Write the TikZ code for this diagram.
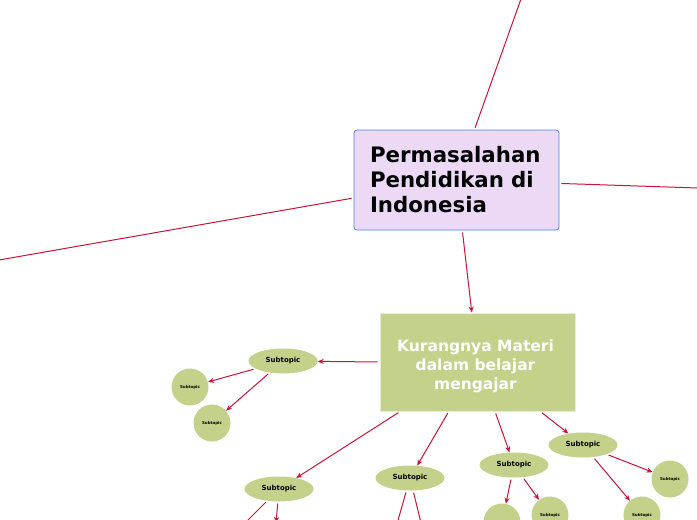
\documentclass[tikz,border=0pt]{standalone}
\usepackage{fontspec}
\newfontfamily\dv{DejaVu Sans}
\usetikzlibrary{shapes.geometric,arrows.meta}
\definecolor{conn}{HTML}{C8153A}
\definecolor{lav}{HTML}{EBD9F6}
\definecolor{lavb}{HTML}{4A86E8}
\definecolor{grn}{HTML}{C3D18B}
\definecolor{grnb}{HTML}{E9EED2}
\tikzset{
  line/.style={draw=conn, line width=1pt, shorten <=2pt},
  arr/.style={line, -{Stealth[length=6pt,width=5pt]}},
  topic/.style={ellipse, fill=grn, minimum width=69pt, minimum height=25pt, inner sep=0pt, font=\dv\bfseries\fontsize{7}{8}\selectfont},
  leaf/.style={circle, fill=grn, minimum size=37pt, inner sep=0pt, font=\dv\bfseries\fontsize{4}{5}\selectfont},
}
\begin{document}
\begin{tikzpicture}[x=1pt,y=-1pt]
\useasboundingbox (0,0) rectangle (697,520);
\clip (0,0) rectangle (697,520);
\fill[white] (0,0) rectangle (697,520);
% main node
\node[draw=lavb, fill=lav, rounded corners=3pt, line width=0.8pt, minimum width=205pt, minimum height=100pt,
      text width=173pt, align=left, inner sep=0pt, font=\dv\bfseries\fontsize{21.3}{25}\selectfont] (main) at (456.5,180) {Permasalahan\\Pendidikan di\\Indonesia};
\coordinate (ctop) at (521,-1);
\coordinate (cright) at (698,188);
\coordinate (cleft) at (-1,260);
\draw[line] (main) -- (ctop);
\draw[line] (main) -- (cright);
\draw[line] (main) -- (cleft);
% green box
\node[draw=grnb, fill=grn, line width=1pt, minimum width=195pt, minimum height=98pt, inner sep=0pt] (kur) at (477.5,362) {};
\node[align=center, inner sep=0pt, text=white, font=\dv\bfseries\fontsize{15.5}{19}\selectfont] (kurt) at (475.5,366) {Kurangnya Materi\\dalam belajar\\ mengajar};
\draw[arr] (main) -- (kur);
% subtopics
\node[topic] (s0) at (283,361) {Subtopic};
\node[topic] (s1) at (279,489) {Subtopic};
\node[topic] (s2) at (410,478) {Subtopic};
\node[topic] (s3) at (514,465) {Subtopic};
\node[topic] (s4) at (583,445) {Subtopic};
\draw[arr] (kur.west) -- (s0);
\draw[arr] (kur) -- (s1);
\draw[arr] (kur) -- (s2);
\draw[arr] (kur) -- (s3);
\draw[arr] (kur) -- (s4);
% leaves
\node[leaf] (l01) at (190,387) {Subtopic};
\node[leaf] (l02) at (212,423) {Subtopic};
\draw[arr] (s0) -- (l01);
\draw[arr] (s0) -- (l02);
\node[leaf] (l41) at (670,479) {Subtopic};
\node[leaf] (l42) at (642,515) {Subtopic};
\draw[arr] (s4) -- (l41);
\draw[arr] (s4) -- (l42);
\node[leaf] (l31) at (502,522) {Subtopic};
\node[leaf] (l32) at (550,515) {Subtopic};
\draw[arr] (s3) -- (l31);
\draw[arr] (s3) -- (l32);
% branches leaving the picture
\coordinate (e21) at (395,531);
\coordinate (e22) at (423,531);
\coordinate (e11) at (237,531);
\coordinate (e12) at (276,523);
\draw[line] (s2) -- (e21);
\draw[line] (s2) -- (e22);
\draw[line] (s1) -- (e11);
\draw[arr] (s1) -- (e12);
\end{tikzpicture}
\end{document}
